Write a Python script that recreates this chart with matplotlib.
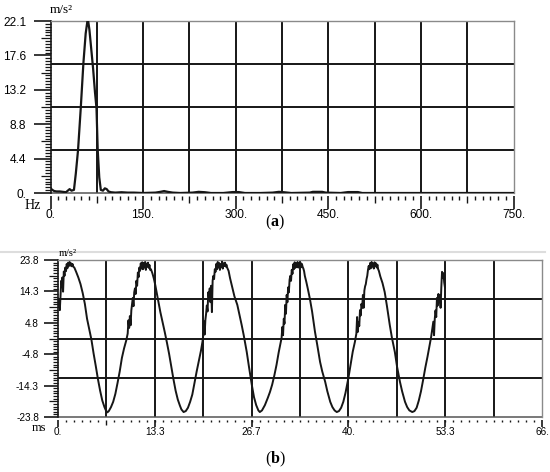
import numpy as np
import matplotlib.pyplot as plt
from matplotlib.lines import Line2D
from matplotlib.ticker import FixedLocator, FixedFormatter

plt.rcParams['font.family'] = ['Liberation Sans', 'DejaVu Sans']
plt.rcParams['mathtext.fontset'] = 'custom'
plt.rcParams['mathtext.rm'] = 'Liberation Serif'
plt.rcParams['mathtext.bf'] = 'Liberation Serif:bold'

# ---- (a) 頻譜 ----
freq_hz = [0, 3, 6, 10, 15, 20, 25, 28, 31, 34,
           38, 41, 44.6, 49, 53.3, 57, 59.8, 61, 63, 66,
           69, 72, 74.5, 76.5, 79, 81.5, 85, 88, 91, 94,
           98, 105, 115, 125, 135, 150, 170, 178, 184, 190,
           198, 210, 230, 240, 250, 260, 280, 295, 305, 315,
           340, 360, 370, 378, 390, 420, 425, 440, 446, 470,
           482, 498, 505, 750]
spec_amp = [0.6, 0.4, 0.25, 0.2, 0.2, 0.15, 0.1, 0.3, 0.5, 0.3,
            0.4, 2.5, 5.5, 10.9, 16.7, 20.5, 22.1, 22.1, 21.0, 18.5,
            16.0, 13.0, 10.9, 5.5, 2.0, 0.4, 0.3, 0.6, 0.5, 0.2,
            0.1, 0.05, 0.1, 0.05, 0.05, 0.0, 0.05, 0.15, 0.25, 0.15,
            0.05, 0.0, 0.05, 0.15, 0.1, 0.0, 0.0, 0.12, 0.12, 0.0,
            0.0, 0.05, 0.15, 0.1, 0.0, 0.05, 0.15, 0.15, 0.05, 0.0,
            0.12, 0.12, 0.0, 0.0]
freq_ticks = [0, 150, 300, 450, 600, 750]
freq_labels = ['0.', '150.', '300.', '450.', '600.', '750.']
spec_ticks = [0, 4.42, 8.84, 13.26, 17.68, 22.1]
spec_labels = ['0.', '4.4', '8.8', '13.2', '17.6', '22.1']

# ---- (b) 時域波形 ----
time_ms = [
    0.15, 0.2, 0.25, 0.35, 0.45, 0.55, 0.6, 0.7, 0.8, 0.9, 1.0, 1.1, 1.2, 1.3, 1.4, 1.5, 1.6, 1.7, 1.8, 1.9,
    2.0, 2.1, 2.25, 2.5, 2.8, 3.1, 3.4, 3.7, 4.0, 4.3, 4.6, 4.9, 5.2, 5.5, 5.8, 6.1, 6.4, 6.6,
    # cycle 1
    6.8, 7.0, 7.3, 7.6, 7.9, 8.2, 8.5, 8.8, 9.1, 9.4, 9.6, 9.7, 9.8, 9.9, 10.0,
    10.1, 10.2, 10.3, 10.4, 10.5, 10.6, 10.7, 10.8, 10.9, 11.0, 11.1, 11.2, 11.3, 11.4,
    11.5, 11.6, 11.7, 11.8, 11.9, 12.0, 12.1, 12.2, 12.3, 12.4, 12.5, 12.6, 12.7, 12.8,
    13.0, 13.2, 13.4, 13.6, 13.8, 14.1, 14.4, 14.7, 15.0, 15.3, 15.6, 15.9, 16.2, 16.5, 16.8, 17.0,
    # cycle 2
    17.3, 17.6, 17.9, 18.2, 18.5, 18.8, 19.1, 19.4, 19.7, 19.9,
    20.0, 20.1, 20.2, 20.3, 20.4, 20.5, 20.6, 20.7, 20.8, 20.9, 21.0, 21.1, 21.2, 21.3, 21.4, 21.5, 21.6,
    21.7, 21.8, 21.9, 22.0, 22.1, 22.2, 22.3, 22.4, 22.5, 22.6, 22.7, 22.8, 22.9, 23.0, 23.1, 23.2, 23.3,
    23.5, 23.7, 24.0, 24.3, 24.7, 25.0, 25.3, 25.6, 26.0, 26.3, 26.7, 27.0, 27.3, 27.6,
    # cycle 3
    27.8, 28.1, 28.5, 28.9, 29.2, 29.5, 29.8, 30.1, 30.4, 30.6,
    30.8, 30.9, 31.0, 31.1, 31.2, 31.3, 31.4, 31.5, 31.6, 31.7, 31.8, 31.9, 32.0, 32.1, 32.2, 32.3, 32.4,
    32.5, 32.6, 32.7, 32.8, 32.9, 33.0, 33.1, 33.2, 33.3, 33.4, 33.5, 33.6, 33.7, 33.8, 33.9, 34.0,
    34.2, 34.4, 34.7, 35.0, 35.4, 35.7, 36.1, 36.4, 36.8, 37.1, 37.5, 37.8, 38.1,
    # cycle 4
    38.4, 38.7, 39.0, 39.3, 39.6, 40.0, 40.3, 40.6, 40.9,
    41.1, 41.2, 41.3, 41.4, 41.5, 41.6, 41.7, 41.8, 41.9, 42.0, 42.1, 42.2, 42.3, 42.4, 42.5, 42.6,
    42.7, 42.8, 42.9, 43.0, 43.1, 43.2, 43.3, 43.4, 43.5, 43.6, 43.7, 43.8, 43.9, 44.0, 44.1, 44.2,
    44.4, 44.7, 45.0, 45.3, 45.7, 46.0, 46.4, 46.7, 47.1, 47.4, 47.8, 48.1, 48.4,
    # cycle 5
    48.8, 49.1, 49.4, 49.7, 50.0, 50.3, 50.6, 50.9, 51.2, 51.4,
    51.6, 51.7, 51.8, 51.9, 52.0, 52.1, 52.2, 52.3, 52.4, 52.5, 52.6, 52.7, 52.8, 52.9, 53.0, 53.1, 53.2, 53.3,
]
accel = [
    9.5, 11.8, 8.6, 13.0, 17.5, 16.0, 18.5, 14.2, 20.3, 19.0, 21.5, 20.4, 22.6, 21.3, 23.0, 22.0, 23.2, 22.1, 22.8, 21.9,
    22.6, 21.8, 21.5, 20.2, 18.5, 16.5, 13.8, 10.5, 6.0, 2.8, -0.3, -4.5, -8.3, -12.3, -15.8, -18.8, -20.8, -21.8,
    # cycle 1
    -22.4, -22.0, -20.8, -19.2, -16.8, -13.5, -10.0, -5.9, -3.0, -0.6, 1.5, 5.5, 3.2, 6.8, 4.0,
    8.5, 10.5, 12.3, 9.8, 14.0, 15.2, 13.5, 17.5, 16.0, 20.0, 18.6, 21.5, 20.5, 22.8,
    21.2, 23.1, 21.0, 22.9, 21.5, 23.2, 20.8, 22.7, 21.8, 23.0, 21.4, 22.3, 20.8, 21.0,
    19.8, 18.2, 16.2, 13.8, 11.5, 8.0, 5.0, 2.0, -1.2, -4.6, -8.5, -12.3, -15.8, -18.5, -20.4, -21.5,
    # cycle 2
    -22.3, -22.0, -21.0, -19.2, -17.0, -13.5, -10.0, -6.8, -3.6, -1.0,
    0.9, 5.2, 1.2, 5.6, 7.5, 10.0, 8.2, 14.0, 12.5, 15.2, 11.0, 16.0, 8.0, 17.5, 19.0, 18.0, 21.0,
    20.2, 22.6, 21.0, 23.2, 21.5, 22.9, 20.8, 22.5, 21.6, 23.3, 21.2, 22.8, 22.0, 23.0, 21.8, 22.4, 21.5,
    20.5, 18.3, 15.5, 12.8, 10.2, 7.2, 4.1, 0.8, -4.1, -8.5, -14.1, -17.8, -20.2, -21.8,
    # cycle 3
    -22.3, -21.8, -20.2, -18.0, -16.2, -14.0, -11.2, -8.0, -4.2, -2.0,
    0.2, 3.5, 1.0, 6.0, 4.5, 10.2, 7.5, 13.2, 11.0, 15.5, 14.0, 17.8, 19.0, 17.5, 20.8, 19.6, 22.5,
    21.0, 23.1, 21.4, 22.7, 21.8, 23.2, 21.5, 22.8, 22.0, 23.0, 21.6, 22.6, 21.7, 21.2, 20.4, 19.0,
    17.2, 15.2, 12.0, 8.2, 2.0, -1.8, -7.1, -10.0, -13.1, -16.0, -19.2, -20.8, -21.8,
    # cycle 4
    -22.3, -22.0, -21.0, -19.2, -16.5, -12.0, -8.0, -4.0, -1.0,
    1.5, 6.5, 2.0, 5.0, 3.8, 8.6, 7.0, 10.5, 9.3, 13.2, 9.3, 14.5, 15.8, 16.5, 18.0, 19.0,
    20.8, 22.0, 21.0, 22.9, 21.3, 23.2, 21.8, 22.7, 21.2, 23.1, 22.0, 22.8, 21.5, 22.4, 21.0, 20.5,
    18.8, 16.8, 14.1, 10.0, 4.1, 0.2, -4.1, -8.5, -13.1, -16.0, -19.2, -20.8, -21.8,
    # cycle 5
    -22.3, -22.0, -21.0, -18.8, -16.0, -12.5, -8.8, -5.5, -2.0, 0.5,
    3.5, 5.1, 1.0, 6.0, 8.5, 6.5, 12.3, 10.0, 13.5, 11.0, 13.2, 9.3, 15.5, 20.2, 18.5, 19.8, 17.0, 15.5,
]
time_ticks = [0, 13.33, 26.67, 40.0, 53.33, 66.67]
time_labels = ['0.', '13.3', '26.7', '40.', '53.3', '66.']
acc_ticks = [-23.8, -14.28, -4.76, 4.76, 14.28, 23.8]
acc_labels = ['-23.8', '-14.3', '-4.8', '4.8', '14.3', '23.8']

ink = '#161616'
grey = '#8a8a8a'
PT = 0.72  # px -> pt at 100 dpi
W, H = 550, 472

fig = plt.figure(figsize=(W / 100, H / 100), dpi=100)


def box(l, t, r, b):
    return [l / W, 1 - b / H, (r - l) / W, (b - t) / H]


def dress(ax, xmax, ylo, yhi, xt, xl, yt, yl, xstep, xmid, ystep, ymid,
          nvert, fs, xmaj, xmin, xmd, ymaj, ymin, ymd, ypad):
    ax.set_xlim(0, xmax)
    ax.set_ylim(ylo, yhi)
    # grid: 10 x 4
    for k in range(1, nvert):
        ax.axvline(xmax * k / nvert, color=ink, lw=1.4, zorder=1)
    for k in range(1, 4):
        ax.axhline(ylo + (yhi - ylo) * k / 4, color=ink, lw=1.4, zorder=1)
    for s in ['top', 'right']:
        ax.spines[s].set_color(grey)
        ax.spines[s].set_linewidth(1.0)
    ax.spines['left'].set_color(ink)
    ax.spines['left'].set_linewidth(1.2)
    ax.spines['bottom'].set_position(('outward', 2))
    ax.spines['bottom'].set_visible(False)
    ax.plot([0, 1], [0, 0], transform=ax.transAxes, color='#555555', lw=1.1, clip_on=False)

    ax.xaxis.set_major_locator(FixedLocator(xt))
    ax.xaxis.set_major_formatter(FixedFormatter(xl))
    ax.yaxis.set_major_locator(FixedLocator(yt))
    ax.yaxis.set_major_formatter(FixedFormatter(yl))
    ax.xaxis.set_minor_locator(FixedLocator(np.arange(0, xmax + 1e-6, xstep)))
    ax.yaxis.set_minor_locator(FixedLocator(np.arange(ylo, yhi + 1e-6, ystep)))
    ax.tick_params(axis='x', which='major', direction='out', length=xmaj * PT, width=1.2,
                   color=ink, pad=0.5, labelsize=fs)
    ax.tick_params(axis='x', which='minor', direction='out', length=xmin * PT, width=1.0, color=ink)
    ax.tick_params(axis='y', which='major', direction='out', length=ymaj * PT, width=1.2,
                   color=ink, pad=ypad * PT, labelsize=fs)
    ax.tick_params(axis='y', which='minor', direction='out', length=ymin * PT, width=0.9, color=ink)

    # medium-length ticks on the ruler
    locs = ax.xaxis.get_minorticklocs()
    for tk, loc in zip(ax.xaxis.get_minor_ticks(len(locs)), locs):
        if np.any(np.isclose(loc, xmid)):
            tk.tick1line.set_markersize(xmd * PT)
    locs = ax.yaxis.get_minorticklocs()
    for tk, loc in zip(ax.yaxis.get_minor_ticks(len(locs)), locs):
        if np.any(np.isclose(loc, ymid)):
            tk.tick1line.set_markersize(ymd * PT)


# (a)
ax_a = fig.add_axes(box(50.5, 21, 513.5, 193))
ax_a.plot(freq_hz, spec_amp, color=ink, lw=1.6, zorder=3)
dress(ax_a, 750, 0, 22.1, freq_ticks, freq_labels, spec_ticks, spec_labels,
      12.5, np.arange(75, 750, 150), 4.42 / 12, np.arange(2.21, 22.1, 4.42),
      10, 8.6, 13, 3.5, 7, 17, 6, 10, 7)

# (b)
ax_b = fig.add_axes(box(58, 260, 542, 417))
ax_b.plot(time_ms, accel, color=ink, lw=1.4, zorder=3)
dress(ax_b, 66.67, -23.8, 23.8, time_ticks, time_labels, acc_ticks, acc_labels,
      66.67 / 60, np.arange(6.667, 66.67, 13.333), 9.52 / 12, np.arange(-19.04, 23.8, 9.52),
      10, 7.2, 7, 2.5, 5, 14, 5, 9, 5)

# 單位、標題
serif = 'Liberation Serif'
fig.text(50 / W, 1 - 10 / H, 'm/s²', family=serif, fontsize=9.5, ha='left', va='center')
fig.text(25 / W, 1 - 205 / H, 'Hz', family=serif, fontsize=10, ha='left', va='center')
fig.text(59 / W, 1 - 254 / H, 'm/s²', family=serif, fontsize=7.5, ha='left', va='center')
fig.text(32 / W, 1 - 428 / H, 'ms', family=serif, fontsize=9, ha='left', va='center')
fig.text(275 / W, 1 - 222 / H, r'($\mathbf{a}$)', family=serif, fontsize=11.5, ha='center', va='center')
fig.text(275 / W, 1 - 459 / H, r'($\mathbf{b}$)', family=serif, fontsize=11.5, ha='center', va='center')
fig.add_artist(Line2D([0, 545 / W], [1 - 252 / H, 1 - 252 / H], color='#dddddd', lw=1.5))

fig.savefig('out.png', dpi=100)
